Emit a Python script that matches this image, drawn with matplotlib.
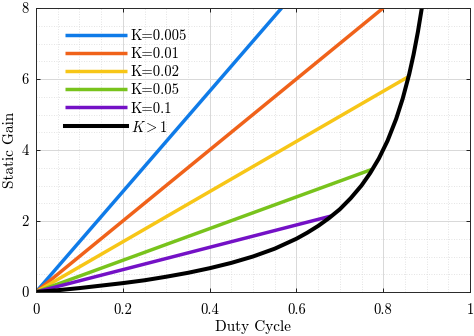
import matplotlib
matplotlib.use("Agg")
import matplotlib.pyplot as plt
from matplotlib.ticker import MultipleLocator

plt.rcParams['font.family'] = 'serif'
plt.rcParams['font.serif'] = ['cmr10', 'DejaVu Serif']
plt.rcParams['mathtext.fontset'] = 'cm'
plt.rcParams['axes.formatter.use_mathtext'] = True

# straight DCM lines: (start, end) duty cycle and gain
labels = ['K=0.005', 'K=0.01', 'K=0.02', 'K=0.05', 'K=0.1']
lineD = [[0, 0.566], [0, 0.80], [0, 0.856], [0, 0.773], [0, 0.680]]
lineG = [[0, 8.0], [0, 8.0], [0, 6.05], [0, 3.45], [0, 2.14]]
colors = ['#0f7be8', '#f0621a', '#f7c617', '#78c31c', '#7411c6']

# K > 1 curve
curveD = [0, 0.05, 0.1, 0.15, 0.2, 0.25, 0.3, 0.35, 0.4, 0.45, 0.5, 0.55,
          0.6, 0.625, 0.65, 0.675, 0.7, 0.725, 0.75, 0.77, 0.79, 0.81, 0.83,
          0.845, 0.86, 0.87, 0.88, 0.889]
curveG = [0, 0.05, 0.11, 0.18, 0.25, 0.33, 0.43, 0.54, 0.67, 0.82, 1.0, 1.22,
          1.5, 1.67, 1.86, 2.08, 2.33, 2.64, 3.0, 3.35, 3.76, 4.26, 4.88,
          5.45, 6.14, 6.69, 7.33, 8.0]

xticks = [0, 0.2, 0.4, 0.6, 0.8, 1]
xticklabels = ['0', '0.2', '0.4', '0.6', '0.8', '1']
yticks = [0, 2, 4, 6, 8]
yticklabels = ['0', '2', '4', '6', '8']

fig = plt.figure(figsize=(4.74, 3.36), dpi=100)
ax = fig.add_axes([36/474, 1-292/336, 434/474, 284/336])

for d, g, c, lab in zip(lineD, lineG, colors, labels):
    ax.plot(d, g, color=c, lw=2.5, label=lab, solid_capstyle='butt')
ax.plot(curveD, curveG, color='black', lw=2.9, label='$K>1$')

ax.set_xlim(0, 1)
ax.set_ylim(0, 8)
ax.set_xticks(xticks)
ax.set_xticklabels(xticklabels)
ax.set_yticks(yticks)
ax.set_yticklabels(yticklabels)
ax.xaxis.set_minor_locator(MultipleLocator(0.05))
ax.yaxis.set_minor_locator(MultipleLocator(0.5))
ax.grid(True, which='major', color='#d8d8d8', lw=0.7)
ax.grid(True, which='minor', color='#dadada', lw=0.6, ls=(0, (1, 2)))
ax.set_axisbelow(True)
ax.tick_params(which='major', direction='in', top=True, right=True, length=3,
               labelsize=10.5, width=0.6, pad=5)
ax.tick_params(axis='x', which='major', pad=8)
ax.tick_params(which='minor', length=0)
for s in ax.spines.values():
    s.set_linewidth(0.7)
    s.set_color('#262626')

ax.set_xlabel('Duty Cycle', fontsize=11, labelpad=2)
ax.set_ylabel('Static Gain', fontsize=11)
ax.yaxis.set_label_coords(-0.043, 0.5)

ax.legend(loc='upper left', bbox_to_anchor=(0.054, 0.945), frameon=False,
          fontsize=10.5, handlelength=4.2, handletextpad=0.3,
          labelspacing=0.3, borderaxespad=0)

fig.savefig('out.png', dpi=100)
